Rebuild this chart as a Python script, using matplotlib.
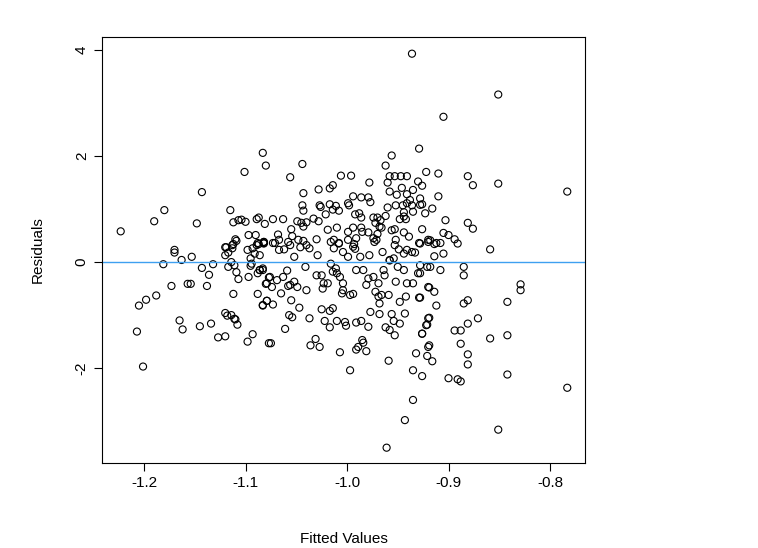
import matplotlib
matplotlib.use("Agg")
import matplotlib.pyplot as plt

x_ticks = [-1.2, -1.1, -1.0, -0.9, -0.8]
y_ticks = [-2, 0, 2, 4]

left_pts = [(-1.223,0.58),(-1.190,0.77),(-1.180,0.98),(-1.148,0.73),(-1.143,1.32),(-1.101,1.70),(-1.083,2.06),(-1.080,1.82),
 (-1.115,0.98),(-1.112,0.75),(-1.107,0.79),(-1.104,0.80),(-1.100,0.76),(-1.089,0.81),(-1.087,0.84),(-1.081,0.72),(-1.097,0.51),
 (-1.090,0.51),(-1.110,0.43),(-1.119,0.28),(-1.113,0.32),(-1.088,0.36),(-1.082,0.38),(-1.170,0.23),(-1.170,0.18),(-1.153,0.10),
 (-1.181,-0.04),(-1.163,0.04),(-1.143,-0.11),(-1.132,-0.04),(-1.136,-0.24),(-1.173,-0.45),(-1.157,-0.41),(-1.154,-0.41),(-1.138,-0.45),
 (-1.188,-0.63),(-1.198,-0.71),(-1.205,-0.82),(-1.207,-1.31),(-1.201,-1.97),(-1.165,-1.10),(-1.162,-1.27),(-1.145,-1.21),(-1.134,-1.16),
 (-1.127,-1.42),(-1.120,-1.40),(-1.120,-0.96),(-1.118,-1.01),(-1.114,-1.00),(-1.111,-1.07),(-1.110,-1.08),(-1.108,-1.18),(-1.098,-1.50),
 (-1.093,-1.36),(-1.112,-0.60),(-1.088,-0.60),(-1.079,-0.73),(-1.083,-0.82),(-1.077,-1.53),(-1.117,-0.09),(-1.114,0.0),(-1.111,-0.06),
 (-1.109,-0.19),(-1.107,-0.32),(-1.097,-0.28),(-1.095,-0.07),(-1.094,-0.03),(-1.088,-0.21),(-1.086,-0.15),(-1.083,-0.15),(-1.080,-0.41),
 (-1.077,-0.29),(-1.120,0.28),(-1.117,0.18),(-1.113,0.26),(-1.112,0.34),(-1.109,0.40),(-1.120,0.13),(-1.098,0.23),(-1.093,0.26),
 (-1.091,0.16),(-1.089,0.32),(-1.086,0.13),(-1.082,0.36),(-1.095,0.07),(-1.087,0.34)]

upper_mid_pts = [(-0.936,3.93),(-0.929,2.14),(-0.956,2.01),(-0.962,1.82),(-1.044,1.85),(-1.056,1.60),(-1.006,1.63),(-0.996,1.63),
 (-0.978,1.50),(-0.922,1.70),(-0.958,1.62),(-0.953,1.62),(-0.947,1.62),(-0.941,1.62),(-0.960,1.50),(-0.946,1.40),(-0.930,1.52),
 (-0.926,1.44),(-1.043,1.30),(-1.028,1.37),(-1.017,1.39),(-1.014,1.45),(-0.958,1.33),(-0.951,1.27),(-0.941,1.28),(-0.935,1.36),
 (-0.994,1.24),(-0.986,1.22),(-0.979,1.22),(-0.977,1.13),(-0.960,1.03),(-0.952,1.07),(-0.945,1.07),(-0.941,1.11),(-0.936,1.07),
 (-0.928,1.20),(-0.926,1.09),(-0.923,0.92),(-1.044,1.07),(-1.043,0.97),(-1.027,1.07),(-1.026,1.04),(-1.017,1.09),(-1.011,1.06),
 (-1.008,0.97),(-1.014,0.99),(-0.999,1.11),(-0.998,1.07),(-0.992,0.90),(-0.988,0.92),(-0.986,0.84),(-1.073,0.81),(-1.063,0.81),
 (-1.033,0.82),(-1.021,0.90),(-1.049,0.77),(-1.045,0.74),(-1.040,0.75),(-1.028,0.77),(-1.043,0.67),(-0.974,0.84),(-0.970,0.84),
 (-0.972,0.74),(-0.967,0.79),(-0.968,0.67),(-0.962,0.87),(-0.948,0.81),(-0.942,0.81),(-0.944,0.94),(-0.944,0.86),(-0.935,0.95),
 (-0.938,1.17),(-0.928,1.08),(-0.926,0.62),(-0.920,0.42),(-1.019,0.61),(-1.010,0.65),(-0.999,0.57),(-0.994,0.65),(-0.991,0.45),
 (-0.986,0.65),(-0.985,0.57),(-0.979,0.56),(-0.974,0.45),(-0.970,0.53),(-0.971,0.42),(-0.966,0.65),(-0.956,0.60),(-0.953,0.62),
 (-0.952,0.42),(-0.944,0.56),(-0.939,0.48),(-0.929,0.36),(-1.068,0.52),(-1.067,0.42),(-1.055,0.62),(-1.054,0.49),(-1.048,0.42),
 (-1.030,0.43),(-1.013,0.42),(-1.008,0.35),(-1.082,0.38),(-1.073,0.36),(-1.058,0.38),(-1.043,0.40),(-0.999,0.42),(-0.993,0.34)]

lower_mid_pts = [(-1.082,0.35),(-1.071,0.36),(-1.067,0.23),(-1.062,0.24),(-1.056,0.32),(-1.052,0.10),(-1.046,0.28),(-1.040,0.32),
 (-1.037,0.26),(-1.029,0.13),(-1.016,0.38),(-1.013,0.26),(-1.008,0.36),(-1.004,0.19),(-0.999,0.10),(-0.994,0.29),(-0.992,0.25),
 (-0.987,0.10),(-0.978,0.13),(-0.973,0.38),(-0.965,0.19),(-0.958,0.03),(-0.953,0.32),(-0.949,0.24),(-0.944,0.16),(-0.941,0.23),
 (-0.936,0.19),(-0.933,0.18),(-0.928,0.35),(-0.920,0.38),
 (-1.086,-0.15),(-1.083,-0.12),(-1.079,-0.40),(-1.076,-0.28),(-1.074,-0.47),(-1.069,-0.34),(-1.065,-0.59),(-1.063,-0.28),
 (-1.059,-0.16),(-1.058,-0.45),(-1.056,-0.43),(-1.052,-0.37),(-1.049,-0.47),(-1.041,-0.09),(-1.040,-0.53),(-1.030,-0.25),
 (-1.025,-0.25),(-1.023,-0.40),(-1.024,-0.50),(-1.019,-0.40),(-1.016,-0.03),(-1.014,-0.18),(-1.011,-0.12),(-1.010,-0.21),
 (-1.007,-0.28),(-1.004,-0.40),(-1.005,-0.59),(-1.004,-0.53),(-0.997,-0.62),(-0.994,-0.60),(-0.991,-0.15),(-0.984,-0.15),
 (-0.981,-0.43),(-0.979,-0.31),(-0.974,-0.28),(-0.972,-0.56),(-0.969,-0.65),(-0.969,-0.40),(-0.968,-0.78),(-0.966,-0.62),
 (-0.964,-0.15),(-0.963,-0.25),(-0.959,-0.62),(-0.958,0.04),(-0.954,0.07),(-0.952,-0.37),(-0.950,-0.09),(-0.948,-0.75),
 (-0.944,-0.15),(-0.942,-0.65),(-0.941,-0.40),(-0.935,-0.40),(-0.930,-0.21),(-0.929,-0.67),(-0.920,-0.47),(-0.918,-0.09),
 (-1.083,-0.81),(-1.079,-0.73),(-1.073,-0.80),(-1.055,-0.72),(-1.047,-0.86),(-1.025,-0.89),(-1.017,-0.92),(-1.014,-0.87),
 (-1.057,-1.00),(-1.054,-1.04),(-1.037,-1.06),(-1.022,-1.11),(-1.017,-1.23),(-1.010,-1.11),(-1.002,-1.13),(-1.001,-1.20),
 (-0.991,-1.14),(-0.986,-1.11),(-0.979,-1.22),(-0.977,-0.94),(-0.968,-0.98),(-0.962,-1.23),(-0.958,-1.28),(-0.956,-0.98),
 (-0.953,-1.38),(-0.954,-1.11),(-0.948,-1.16),(-0.943,-0.97),(-0.926,-1.35),(-0.922,-1.19),(-0.920,-1.06),(-1.061,-1.26),
 (-1.075,-1.53),(-1.036,-1.57),(-1.031,-1.45),(-1.027,-1.60),(-1.007,-1.70),(-0.991,-1.65),(-0.989,-1.60),(-0.985,-1.47),
 (-0.984,-1.52),(-0.981,-1.68),(-0.959,-1.86),(-0.932,-1.72),(-0.921,-1.77),(-0.920,-1.60),(-0.997,-2.04),(-0.935,-2.04),
 (-0.926,-2.15),(-0.935,-2.60),(-0.943,-2.98),(-0.961,-3.50)]

right_pts = [(-0.851,3.16),(-0.905,2.74),(-0.783,1.33),(-0.851,1.48),(-0.881,1.62),(-0.876,1.45),(-0.910,1.67),(-0.910,1.24),
 (-0.916,1.01),(-0.903,0.79),(-0.881,0.74),(-0.876,0.63),(-0.905,0.55),(-0.900,0.51),(-0.894,0.43),(-0.891,0.35),(-0.918,0.41),
 (-0.914,0.34),(-0.912,0.36),(-0.908,0.36),(-0.859,0.24),(-0.914,0.11),(-0.905,0.16),(-0.921,-0.09),(-0.908,-0.15),(-0.885,-0.09),
 (-0.885,-0.25),(-0.928,-0.06),(-0.928,-0.21),(-0.829,-0.42),(-0.829,-0.53),(-0.919,-0.48),(-0.914,-0.56),(-0.928,-0.67),
 (-0.912,-0.82),(-0.885,-0.78),(-0.881,-0.72),(-0.842,-0.75),(-0.871,-1.06),(-0.881,-1.16),(-0.919,-1.05),(-0.921,-1.18),
 (-0.894,-1.29),(-0.888,-1.29),(-0.926,-1.35),(-0.859,-1.44),(-0.842,-1.38),(-0.888,-1.54),(-0.919,-1.57),(-0.881,-1.74),
 (-0.881,-1.93),(-0.916,-1.87),(-0.900,-2.19),(-0.891,-2.21),(-0.888,-2.25),(-0.842,-2.12),(-0.783,-2.37),(-0.851,-3.16)]

pts = left_pts + upper_mid_pts + lower_mid_pts + right_pts
fitted = [p[0] for p in pts]
resid = [p[1] for p in pts]

plt.rcParams['font.family'] = ['Liberation Sans', 'DejaVu Sans']
fig = plt.figure(figsize=(7.58, 5.48), dpi=100)
ax = fig.add_axes([0.1346, 0.155, 0.6372, 0.7775])
ax.scatter(fitted, resid, s=26, facecolors='none', edgecolors='black', linewidths=0.8)
ax.axhline(0, color='#3fa0f0', linewidth=1)
ax.set_xlim(-1.2414, -0.7655)
ax.set_ylim(-3.79, 4.245)
ax.set_xticks(x_ticks)
ax.set_xticklabels([f"{v:.1f}" for v in x_ticks])
ax.set_yticks(y_ticks)
ax.set_yticklabels([str(v) for v in y_ticks], rotation=90, va='center')
ax.tick_params(labelsize=11, length=6)
ax.set_xlabel("Fitted Values", fontsize=11, labelpad=30)
ax.set_ylabel("Residuals", fontsize=11, labelpad=22)
fig.savefig("out.png", dpi=100)
